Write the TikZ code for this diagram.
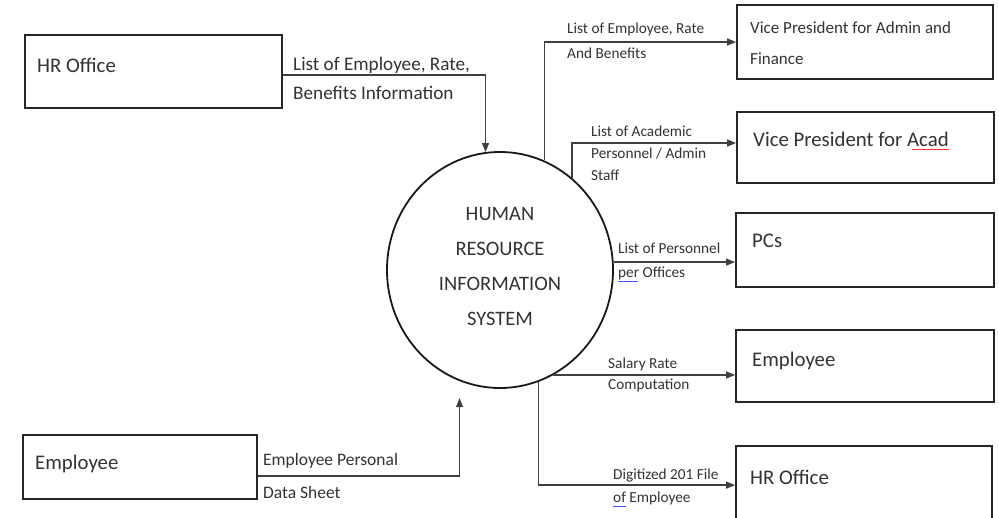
\documentclass[tikz,border=0pt]{standalone}
\usepackage{fontspec}
\setmainfont{Carlito}
\usetikzlibrary{arrows.meta,calc,shapes.geometric}
\begin{document}
\begin{tikzpicture}[x=1pt,y=-1pt,
  entity/.style={draw=black!85,line width=1.8pt,rectangle,inner sep=0pt},
  proc/.style={draw=black!90,line width=1.8pt,ellipse,inner sep=0pt,minimum width=226pt,minimum height=236pt},
  flow/.style={draw=black!75,line width=1.3pt,-{Triangle[length=9pt,width=7pt]}},
  boxtext/.style={anchor=base west,inner sep=0pt,font=\fontsize{20.8}{24}\selectfont,text=black!80},
  flowtext/.style={anchor=base west,inner sep=0pt,align=left,text=black!80},
  bigflow/.style={flowtext,font=\fontsize{19.2}{29}\selectfont},
  smallflow/.style={flowtext,font=\fontsize{15.3}{23}\selectfont}
]
\clip (0,0) rectangle (999,517);
\fill[white] (0,0) rectangle (999,517);

% process (multi-line nodes: base = last line)
\node[proc] (hris) at (500,270) {};
\node[anchor=base,inner sep=0pt,align=center,font=\fontsize{20.5}{35}\selectfont,text=black!80] (hristext) at (500,325)
  {HUMAN\\RESOURCE\\INFORMATION\\SYSTEM};

% left entities
\node[entity,minimum width=257pt,minimum height=73pt] (hrL) at (153.5,71.5) {};
\node[boxtext] (hrLt) at (37,72) {HR Office};
\node[entity,minimum width=234pt,minimum height=64pt] (empL) at (140,467) {};
\node[boxtext] (empLt) at (35,469) {Employee};

% right entities
\node[entity,minimum width=256pt,minimum height=74pt] (vpA) at (865,42) {};
\node[boxtext,align=left,font=\fontsize{17}{31}\selectfont] (vpAt) at (750,64) {Vice President for Admin and\\Finance};
\node[entity,minimum width=257pt,minimum height=71pt] (vpAc) at (865.5,147.5) {};
\node[boxtext] (vpAct) at (753,146) {Vice President for Acad};
\node[entity,minimum width=258pt,minimum height=74pt] (pcs) at (865,250) {};
\node[boxtext] (pcst) at (752,247) {PCs};
\node[entity,minimum width=258pt,minimum height=72pt] (emp2) at (865,366) {};
\node[boxtext] (emp2t) at (752,366) {Employee};
\node[entity,minimum width=256pt,minimum height=90pt] (hr2) at (864,491) {};
\node[boxtext] (hr2t) at (750,484) {HR Office};

% spell-check underline
\draw[red!80,line width=0.9pt] ($(vpAct.base east)+(-37,3)$) -- ($(vpAct.base east)+(0,3)$);

% flows in
\draw[flow] ([yshift=-3.5pt]hrL.east) -| (hris.97);
\node[bigflow] (l1) at (293,99) {List of Employee, Rate,\\Benefits Information};
\draw[flow] ([yshift=-9pt]empL.east) -| ([yshift=-17pt]hris.250);
\node[bigflow,font=\fontsize{17.5}{33}\selectfont] (l2) at (263,498) {Employee Personal\\Data Sheet};

% flows out
\draw[flow] (hris.68) |- (vpA.west);
\node[smallflow,font=\fontsize{15.3}{25}\selectfont] (l3) at (567,58) {List of Employee, Rate\\And Benefits};
\draw[flow] (hris.52) |- ([yshift=4.5pt]vpAc.west);
\node[smallflow,font=\fontsize{15.3}{22}\selectfont] (l4) at (591,180) {List of Academic\\Personnel / Admin\\Staff};
\draw[flow] (hris.4) -- (hris.4 -| pcs.west);
\node[smallflow,font=\fontsize{15.3}{24}\selectfont] (l5) at (618,277) {List of Personnel\\per Offices};
\draw[blue!70,line width=0.9pt] (618,281) -- (638,281);
\draw[flow] (hris.-63) -- (hris.-63 -| emp2.west);
\node[smallflow,font=\fontsize{15.3}{21}\selectfont] (l6) at (608,389) {Salary Rate\\Computation};
\draw[flow] (hris.-71) |- ([yshift=-40pt]hr2.north west);
\node[smallflow,font=\fontsize{15.3}{23}\selectfont] (l7) at (613,502) {Digitized 201 File\\of Employee};
\draw[blue!70,line width=0.9pt] (613,506) -- (626,506);
\end{tikzpicture}
\end{document}
